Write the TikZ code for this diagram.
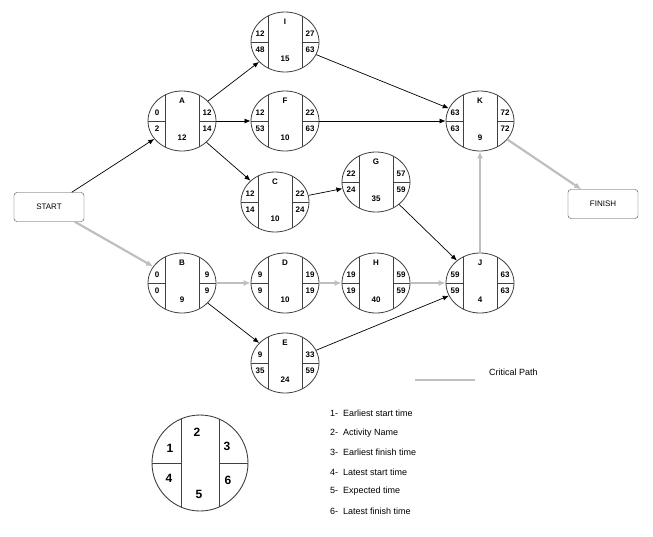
\documentclass[tikz,border=0pt]{standalone}
\usepackage{fontspec}
\setmainfont{Liberation Sans}
\usetikzlibrary{shapes.geometric,arrows.meta,calc}
\tikzset{
 pn/.style={ellipse,draw=black!75,line width=0.8pt,minimum width=68pt,minimum height=60pt,inner sep=0pt},
 num/.style={font=\bfseries\fontsize{8}{9}\selectfont,inner sep=0pt},
 blk/.style={-{Latex[length=6pt,width=5pt]},line width=0.7pt},
 crit/.style={-{Latex[length=7pt,width=6pt]},line width=2.2pt,draw=black!25,color=black!25},
 box/.style={draw=black!75,rounded corners=3pt,minimum width=70pt,minimum height=29pt,font=\fontsize{8}{9}\selectfont},
 leg/.style={font=\fontsize{9}{10}\selectfont,anchor=west,inner sep=0pt}
}
\newcommand\pertnd[9]{%
 \node[pn] (#1) at (#2,#3) {};
 \draw[black!75,line width=0.8pt] ($(#1.center)+(-17,-26)$) -- ($(#1.center)+(-17,26)$)
   ($(#1.center)+(17,-26)$) -- ($(#1.center)+(17,26)$)
   ($(#1.center)+(-34,0)$) -- ($(#1.center)+(-17,0)$)
   ($(#1.center)+(17,0)$) -- ($(#1.center)+(34,0)$);
 \node[num] at ($(#1.center)+(0,-20)$) {#4};
 \node[num] at ($(#1.center)+(-25,-8)$) {#5};
 \node[num] at ($(#1.center)+(25,-8)$) {#6};
 \node[num] at ($(#1.center)+(-25,8)$) {#7};
 \node[num] at ($(#1.center)+(25,8)$) {#8};
 \node[num] at ($(#1.center)+(0,17)$) {#9};
}
\begin{document}
\begin{tikzpicture}[x=1pt,y=-1pt]
\useasboundingbox (0,0) rectangle (653,536);
\pertnd{I}{285}{42}{I}{12}{27}{48}{63}{15}
\pertnd{A}{182}{121}{A}{0}{12}{2}{14}{12}
\pertnd{F}{285}{121}{F}{12}{22}{53}{63}{10}
\pertnd{K}{480}{121}{K}{63}{72}{63}{72}{9}
\pertnd{C}{275}{202}{C}{12}{22}{14}{24}{10}
\pertnd{G}{376}{182}{G}{22}{57}{24}{59}{35}
\pertnd{B}{182}{283}{B}{0}{9}{0}{9}{9}
\pertnd{D}{285}{283}{D}{9}{19}{9}{19}{10}
\pertnd{H}{376}{283}{H}{19}{59}{19}{59}{40}
\pertnd{J}{480}{283}{J}{59}{63}{59}{63}{4}
\pertnd{E}{285}{363}{E}{9}{33}{35}{59}{24}
\node[box] (start) at (49,207) {START};
\node[box] (finish) at (603,204) {FINISH};
\draw[blk] (start) -- (A);
\draw[blk] (A) -- (I);
\draw[blk] (A) -- (F);
\draw[blk] (A) -- (C);
\draw[blk] (I) -- (K);
\draw[blk] (F) -- (K);
\draw[blk] (C) -- (G);
\draw[blk] (G) -- (J);
\draw[blk] (B) -- (E);
\draw[blk] (E) -- (J);
\draw[crit] (start) -- (B);
\draw[crit] (B) -- (D);
\draw[crit] (D) -- (H);
\draw[crit] (H) -- (J);
\draw[crit] (J) -- (K);
\draw[crit] (K) -- (finish);
\coordinate (cp1) at (415,380);
\coordinate (cp2) at (475,380);
\draw[line width=2.2pt,black!25] (cp1) -- (cp2);
\node[leg] (cpt) at (489,372) {Critical Path};
\node[circle,draw=black!75,line width=0.9pt,minimum size=96pt,inner sep=0pt] (L) at (200,463) {};
\draw[black!75,line width=0.9pt] ($(L.center)+(-19,-44)$) -- ($(L.center)+(-19,44)$)
  ($(L.center)+(19,-44)$) -- ($(L.center)+(19,44)$)
  ($(L.center)+(-48,0)$) -- ($(L.center)+(-19,0)$)
  ($(L.center)+(19,0)$) -- ($(L.center)+(48,0)$);
\tikzset{bn/.style={font=\bfseries\fontsize{12}{13}\selectfont,inner sep=0pt}}
\node[bn] at (170,448) {1};
\node[bn] at (197,432) {2};
\node[bn] at (227,446) {3};
\node[bn] at (169,478) {4};
\node[bn] at (199,494) {5};
\node[bn] at (228,480) {6};
\node[leg] at (330,413) {1-\ \ Earliest start time};
\node[leg] at (330,433) {2-\ \ Activity Name};
\node[leg] at (330,452) {3-\ \ Earliest finish time};
\node[leg] at (330,472) {4-\ \ Latest start time};
\node[leg] at (330,491) {5-\ \ Expected time};
\node[leg] at (330,511) {6-\ \ Latest finish time};
\end{tikzpicture}
\end{document}
